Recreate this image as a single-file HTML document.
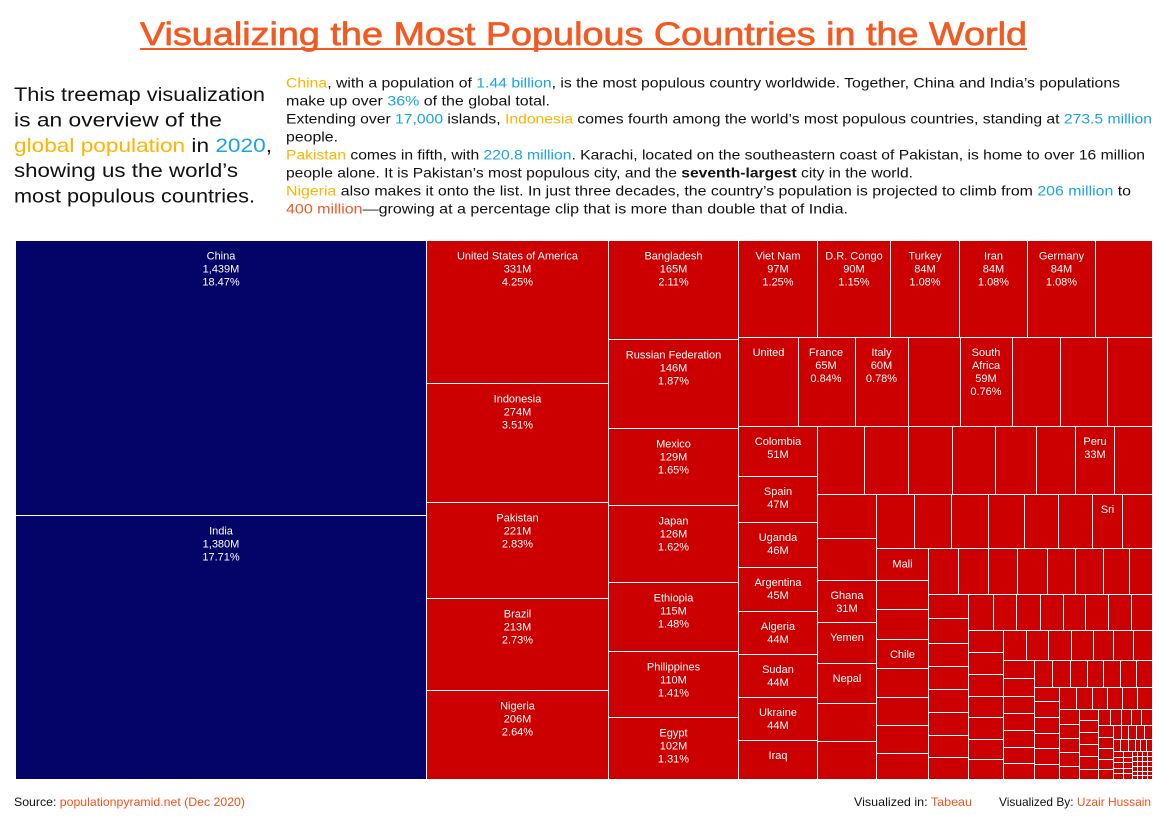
<!DOCTYPE html>
<html><head><meta charset="utf-8"><style>
html,body{margin:0;padding:0;background:#fff;}
svg{display:block;}
text{font-family:"Liberation Sans",Arial,sans-serif;}
.lb{font-size:11px;fill:#fff;text-anchor:middle;}
</style></head><body>
<svg width="1165" height="823" viewBox="0 0 1165 823" xmlns="http://www.w3.org/2000/svg">
<rect width="1165" height="823" fill="#fff"/>
<!-- Title -->
<text x="140" y="45" font-size="32" fill="#f25a24" stroke="#f25a24" stroke-width="0.7" textLength="887" lengthAdjust="spacingAndGlyphs">Visualizing the Most Populous Countries in the World</text>
<rect x="140" y="48" width="887" height="2" fill="#f25a24"/>
<!-- Left intro -->
<g font-size="19.5" fill="#111">
<text x="14" y="101" textLength="251" lengthAdjust="spacingAndGlyphs">This treemap visualization</text>
<text x="14" y="126.5" textLength="208" lengthAdjust="spacingAndGlyphs">is an overview of the</text>
<text x="14" y="152" textLength="258" lengthAdjust="spacingAndGlyphs"><tspan fill="#ffb400">global population</tspan> in <tspan fill="#1aa3e8">2020</tspan>,</text>
<text x="14" y="177" textLength="224" lengthAdjust="spacingAndGlyphs">showing us the world’s</text>
<text x="14" y="202.5" textLength="241" lengthAdjust="spacingAndGlyphs">most populous countries.</text>
</g>
<!-- Right paragraph -->
<g font-size="14" fill="#111">
<text x="286" y="87.5" textLength="834" lengthAdjust="spacingAndGlyphs"><tspan fill="#ffb400">China</tspan>, with a population of <tspan fill="#1aa3e8">1.44 billion</tspan>, is the most populous country worldwide. Together, China and India’s populations</text>
<text x="286" y="105.5" textLength="264" lengthAdjust="spacingAndGlyphs">make up over <tspan fill="#1aa3e8">36%</tspan> of the global total.</text>
<text x="286" y="123.5" textLength="866" lengthAdjust="spacingAndGlyphs">Extending over <tspan fill="#1aa3e8">17,000</tspan> islands, <tspan fill="#ffb400">Indonesia</tspan> comes fourth among the world’s most populous countries, standing at <tspan fill="#1aa3e8">273.5 million</tspan></text>
<text x="286" y="141.5" textLength="52" lengthAdjust="spacingAndGlyphs">people.</text>
<text x="286" y="159.5" textLength="859" lengthAdjust="spacingAndGlyphs"><tspan fill="#ffb400">Pakistan</tspan> comes in fifth, with <tspan fill="#1aa3e8">220.8 million</tspan>. Karachi, located on the southeastern coast of Pakistan, is home to over 16 million</text>
<text x="286" y="177.5" textLength="627" lengthAdjust="spacingAndGlyphs">people alone. It is Pakistan’s most populous city, and the <tspan font-weight="bold">seventh-largest</tspan> city in the world.</text>
<text x="286" y="195.5" textLength="845" lengthAdjust="spacingAndGlyphs"><tspan fill="#ffb400">Nigeria</tspan> also makes it onto the list. In just three decades, the country’s population is projected to climb from <tspan fill="#1aa3e8">206 million</tspan> to</text>
<text x="286" y="213.5" textLength="562" lengthAdjust="spacingAndGlyphs"><tspan fill="#f05a28">400 million</tspan>—growing at a percentage clip that is more than double that of India.</text>
</g>

<!-- Treemap -->
<g fill="#030368">
<rect x="16" y="241" width="410" height="274"/>
<rect x="16" y="516" width="410" height="263"/>
</g>
<g fill="#cc0000">
<rect x="427" y="241" width="181" height="142"/>
<rect x="427" y="384" width="181" height="118"/>
<rect x="427" y="503" width="181" height="95"/>
<rect x="427" y="599" width="181" height="91"/>
<rect x="427" y="691" width="181" height="88"/>
<rect x="609" y="241" width="129" height="98"/>
<rect x="609" y="340" width="129" height="88"/>
<rect x="609" y="429" width="129" height="76"/>
<rect x="609" y="506" width="129" height="76"/>
<rect x="609" y="583" width="129" height="68"/>
<rect x="609" y="652" width="129" height="65"/>
<rect x="609" y="718" width="129" height="61"/>
<rect x="739" y="241" width="78" height="96"/>
<rect x="818" y="241" width="72" height="96"/>
<rect x="891" y="241" width="68" height="96"/>
<rect x="960" y="241" width="67" height="96"/>
<rect x="1028" y="241" width="67" height="96"/>
<rect x="1096" y="241" width="56" height="96"/>
<rect x="739" y="338" width="59" height="88"/>
<rect x="799" y="338" width="56" height="88"/>
<rect x="856" y="338" width="52" height="88"/>
<rect x="909" y="338" width="51" height="88"/>
<rect x="961" y="338" width="51" height="88"/>
<rect x="1013" y="338" width="47" height="88"/>
<rect x="1061" y="338" width="46" height="88"/>
<rect x="1108" y="338" width="44" height="88"/>
<rect x="739" y="427" width="78" height="49"/>
<rect x="739" y="477" width="78" height="45"/>
<rect x="739" y="523" width="78" height="44"/>
<rect x="739" y="568" width="78" height="43"/>
<rect x="739" y="612" width="78" height="42"/>
<rect x="739" y="655" width="78" height="42"/>
<rect x="739" y="698" width="78" height="42"/>
<rect x="739" y="741" width="78" height="38"/>
<rect x="818" y="427" width="46" height="67"/>
<rect x="865" y="427" width="43" height="67"/>
<rect x="909" y="427" width="43" height="67"/>
<rect x="953" y="427" width="42" height="67"/>
<rect x="996" y="427" width="40" height="67"/>
<rect x="1037" y="427" width="38" height="67"/>
<rect x="1076" y="427" width="38" height="67"/>
<rect x="1115" y="427" width="37" height="67"/>
<rect x="818" y="495" width="58" height="43"/>
<rect x="818" y="539" width="58" height="41"/>
<rect x="818" y="581" width="58" height="41"/>
<rect x="818" y="623" width="58" height="40"/>
<rect x="818" y="664" width="58" height="39"/>
<rect x="818" y="704" width="58" height="37"/>
<rect x="818" y="742" width="58" height="37"/>
<rect x="877" y="495" width="37" height="53"/>
<rect x="915" y="495" width="36" height="53"/>
<rect x="952" y="495" width="36" height="53"/>
<rect x="989" y="495" width="35" height="53"/>
<rect x="1025" y="495" width="33" height="53"/>
<rect x="1059" y="495" width="33" height="53"/>
<rect x="1093" y="495" width="29" height="53"/>
<rect x="1123" y="495" width="29" height="53"/>
<rect x="877" y="549" width="51" height="31"/>
<rect x="877" y="581" width="51" height="28"/>
<rect x="877" y="610" width="51" height="29"/>
<rect x="877" y="640" width="51" height="28"/>
<rect x="877" y="669" width="51" height="28"/>
<rect x="877" y="698" width="51" height="27"/>
<rect x="877" y="726" width="51" height="27"/>
<rect x="877" y="754" width="51" height="25"/>
<rect x="929" y="549" width="29" height="45"/>
<rect x="959" y="549" width="29" height="45"/>
<rect x="989" y="549" width="28" height="45"/>
<rect x="1018" y="549" width="29" height="45"/>
<rect x="1048" y="549" width="27" height="45"/>
<rect x="1076" y="549" width="27" height="45"/>
<rect x="1104" y="549" width="25" height="45"/>
<rect x="1130" y="549" width="22" height="45"/>
<rect x="929" y="595" width="39" height="23"/>
<rect x="929" y="619" width="39" height="24"/>
<rect x="929" y="644" width="39" height="22"/>
<rect x="929" y="667" width="39" height="22"/>
<rect x="929" y="690" width="39" height="22"/>
<rect x="929" y="713" width="39" height="22"/>
<rect x="929" y="736" width="39" height="21"/>
<rect x="929" y="758" width="39" height="21"/>
<rect x="969" y="595" width="24" height="35"/>
<rect x="994" y="595" width="22" height="35"/>
<rect x="1017" y="595" width="23" height="35"/>
<rect x="1041" y="595" width="22" height="35"/>
<rect x="1064" y="595" width="21" height="35"/>
<rect x="1086" y="595" width="22" height="35"/>
<rect x="1109" y="595" width="22" height="35"/>
<rect x="1132" y="595" width="20" height="35"/>
<rect x="969" y="631" width="34" height="21"/>
<rect x="969" y="653" width="34" height="21"/>
<rect x="969" y="675" width="34" height="21"/>
<rect x="969" y="697" width="34" height="20"/>
<rect x="969" y="718" width="34" height="21"/>
<rect x="969" y="740" width="34" height="19"/>
<rect x="969" y="760" width="34" height="19"/>
<rect x="1004" y="631" width="22" height="29"/>
<rect x="1027" y="631" width="21" height="29"/>
<rect x="1049" y="631" width="22" height="29"/>
<rect x="1072" y="631" width="21" height="29"/>
<rect x="1094" y="631" width="19" height="29"/>
<rect x="1114" y="631" width="19" height="29"/>
<rect x="1134" y="631" width="18" height="29"/>
<rect x="1004" y="661" width="30" height="17"/>
<rect x="1004" y="679" width="30" height="17"/>
<rect x="1004" y="697" width="30" height="16"/>
<rect x="1004" y="714" width="30" height="16"/>
<rect x="1004" y="731" width="30" height="16"/>
<rect x="1004" y="748" width="30" height="15"/>
<rect x="1004" y="764" width="30" height="15"/>
<rect x="1035" y="661" width="17" height="26"/>
<rect x="1053" y="661" width="17" height="26"/>
<rect x="1071" y="661" width="16" height="26"/>
<rect x="1088" y="661" width="15" height="26"/>
<rect x="1104" y="661" width="16" height="26"/>
<rect x="1121" y="661" width="15" height="26"/>
<rect x="1137" y="661" width="15" height="26"/>
<rect x="1035" y="688" width="24" height="13"/>
<rect x="1035" y="702" width="24" height="15"/>
<rect x="1035" y="718" width="24" height="15"/>
<rect x="1035" y="734" width="24" height="14"/>
<rect x="1035" y="749" width="24" height="15"/>
<rect x="1035" y="765" width="24" height="14"/>
<rect x="1060" y="688" width="16" height="21"/>
<rect x="1077" y="688" width="15" height="21"/>
<rect x="1093" y="688" width="14" height="21"/>
<rect x="1108" y="688" width="14" height="21"/>
<rect x="1123" y="688" width="14" height="21"/>
<rect x="1138" y="688" width="14" height="21"/>
<rect x="1060" y="710" width="19" height="14"/>
<rect x="1060" y="725" width="19" height="13"/>
<rect x="1060" y="739" width="19" height="13"/>
<rect x="1060" y="753" width="19" height="13"/>
<rect x="1060" y="767" width="19" height="12"/>
<rect x="1080" y="710" width="18" height="10"/>
<rect x="1080" y="721" width="18" height="11"/>
<rect x="1080" y="733" width="18" height="11"/>
<rect x="1080" y="745" width="18" height="11"/>
<rect x="1080" y="757" width="18" height="12"/>
<rect x="1080" y="770" width="18" height="9"/>
<rect x="1099" y="710" width="11" height="15"/>
<rect x="1111" y="710" width="10" height="15"/>
<rect x="1122" y="710" width="9" height="15"/>
<rect x="1132" y="710" width="9" height="15"/>
<rect x="1142" y="710" width="10" height="15"/>
<rect x="1099" y="726" width="14" height="11"/>
<rect x="1099" y="738" width="14" height="10"/>
<rect x="1099" y="749" width="14" height="10"/>
<rect x="1099" y="760" width="14" height="9"/>
<rect x="1099" y="770" width="14" height="9"/>
<rect x="1114" y="726" width="7" height="13"/>
<rect x="1122" y="726" width="6" height="13"/>
<rect x="1129" y="726" width="7" height="13"/>
<rect x="1137" y="726" width="7" height="13"/>
<rect x="1145" y="726" width="7" height="13"/>
<rect x="1114" y="740" width="6" height="11"/>
<rect x="1121" y="740" width="7" height="11"/>
<rect x="1129" y="740" width="6" height="11"/>
<rect x="1136" y="740" width="4" height="11"/>
<rect x="1141" y="740" width="5" height="11"/>
<rect x="1147" y="740" width="5" height="11"/>
<rect x="1114" y="752" width="9" height="5"/>
<rect x="1114" y="758" width="9" height="4"/>
<rect x="1114" y="763" width="9" height="5"/>
<rect x="1114" y="769" width="9" height="4"/>
<rect x="1114" y="774" width="9" height="5"/>
<rect x="1124" y="752" width="8" height="5"/>
<rect x="1124" y="758" width="8" height="4"/>
<rect x="1124" y="763" width="8" height="5"/>
<rect x="1124" y="769" width="8" height="4"/>
<rect x="1124" y="774" width="8" height="5"/>
<rect x="1133" y="752" width="19" height="27"/>
</g>
<g stroke="#fff" stroke-width="1">
<line x1="1137.5" y1="752" x2="1137.5" y2="779"/>
<line x1="1142.5" y1="752" x2="1142.5" y2="779"/>
<line x1="1147.5" y1="752" x2="1147.5" y2="779"/>
<line x1="1133" y1="756.5" x2="1152" y2="756.5"/>
<line x1="1133" y1="761.5" x2="1152" y2="761.5"/>
<line x1="1133" y1="766.5" x2="1152" y2="766.5"/>
<line x1="1133" y1="771.5" x2="1152" y2="771.5"/>
<line x1="1133" y1="775.5" x2="1152" y2="775.5"/>
</g>

<!-- Labels -->
<g class="lb">
<text x="221" y="259.5">China</text><text x="221" y="272.5">1,439M</text><text x="221" y="285.5">18.47%</text>
<text x="221" y="534.5">India</text><text x="221" y="547.5">1,380M</text><text x="221" y="560.5">17.71%</text>

<text x="517.5" y="259.5">United States of America</text><text x="517.5" y="272.5">331M</text><text x="517.5" y="285.5">4.25%</text>
<text x="517.5" y="402.5">Indonesia</text><text x="517.5" y="415.5">274M</text><text x="517.5" y="428.5">3.51%</text>
<text x="517.5" y="521.5">Pakistan</text><text x="517.5" y="534.5">221M</text><text x="517.5" y="547.5">2.83%</text>
<text x="517.5" y="617.5">Brazil</text><text x="517.5" y="630.5">213M</text><text x="517.5" y="643.5">2.73%</text>
<text x="517.5" y="709.5">Nigeria</text><text x="517.5" y="722.5">206M</text><text x="517.5" y="735.5">2.64%</text>

<text x="673.5" y="259.5">Bangladesh</text><text x="673.5" y="272.5">165M</text><text x="673.5" y="285.5">2.11%</text>
<text x="673.5" y="358.5">Russian Federation</text><text x="673.5" y="371.5">146M</text><text x="673.5" y="384.5">1.87%</text>
<text x="673.5" y="447.5">Mexico</text><text x="673.5" y="460.5">129M</text><text x="673.5" y="473.5">1.65%</text>
<text x="673.5" y="524.5">Japan</text><text x="673.5" y="537.5">126M</text><text x="673.5" y="550.5">1.62%</text>
<text x="673.5" y="601.5">Ethiopia</text><text x="673.5" y="614.5">115M</text><text x="673.5" y="627.5">1.48%</text>
<text x="673.5" y="670.5">Philippines</text><text x="673.5" y="683.5">110M</text><text x="673.5" y="696.5">1.41%</text>
<text x="673.5" y="736.5">Egypt</text><text x="673.5" y="749.5">102M</text><text x="673.5" y="762.5">1.31%</text>

<text x="778" y="259.5">Viet Nam</text><text x="778" y="272.5">97M</text><text x="778" y="285.5">1.25%</text>
<text x="854" y="259.5">D.R. Congo</text><text x="854" y="272.5">90M</text><text x="854" y="285.5">1.15%</text>
<text x="925" y="259.5">Turkey</text><text x="925" y="272.5">84M</text><text x="925" y="285.5">1.08%</text>
<text x="993.5" y="259.5">Iran</text><text x="993.5" y="272.5">84M</text><text x="993.5" y="285.5">1.08%</text>
<text x="1061.5" y="259.5">Germany</text><text x="1061.5" y="272.5">84M</text><text x="1061.5" y="285.5">1.08%</text>

<text x="768.5" y="356">United</text>
<text x="826" y="356">France</text><text x="826" y="369">65M</text><text x="826" y="382">0.84%</text>
<text x="881.5" y="356">Italy</text><text x="881.5" y="369">60M</text><text x="881.5" y="382">0.78%</text>
<text x="986" y="356">South</text><text x="986" y="369">Africa</text><text x="986" y="382">59M</text><text x="986" y="395">0.76%</text>

<text x="778" y="445">Colombia</text><text x="778" y="458">51M</text>
<text x="778" y="495">Spain</text><text x="778" y="508">47M</text>
<text x="778" y="541">Uganda</text><text x="778" y="554">46M</text>
<text x="778" y="586">Argentina</text><text x="778" y="599">45M</text>
<text x="778" y="630">Algeria</text><text x="778" y="643">44M</text>
<text x="778" y="673">Sudan</text><text x="778" y="686">44M</text>
<text x="778" y="716">Ukraine</text><text x="778" y="729">44M</text>
<text x="778" y="759">Iraq</text>

<text x="1095" y="445">Peru</text><text x="1095" y="458">33M</text>
<text x="847" y="599">Ghana</text><text x="847" y="612">31M</text>
<text x="847" y="641">Yemen</text>
<text x="847" y="682">Nepal</text>
<text x="902.5" y="567.5">Mali</text>
<text x="902.5" y="658">Chile</text>
<text x="1107.5" y="513">Sri</text>
</g>

<!-- Footer -->
<text x="14" y="806" font-size="12" fill="#111" textLength="231" lengthAdjust="spacingAndGlyphs">Source: <tspan fill="#f4511e">populationpyramid.net (Dec 2020)</tspan></text>
<text x="854" y="806" font-size="12" fill="#111" textLength="118" lengthAdjust="spacingAndGlyphs">Visualized in: <tspan fill="#f4511e">Tabeau</tspan></text>
<text x="999" y="806" font-size="12" fill="#111" textLength="152" lengthAdjust="spacingAndGlyphs">Visualized By: <tspan fill="#f4511e">Uzair Hussain</tspan></text>
</svg>
</body></html>
